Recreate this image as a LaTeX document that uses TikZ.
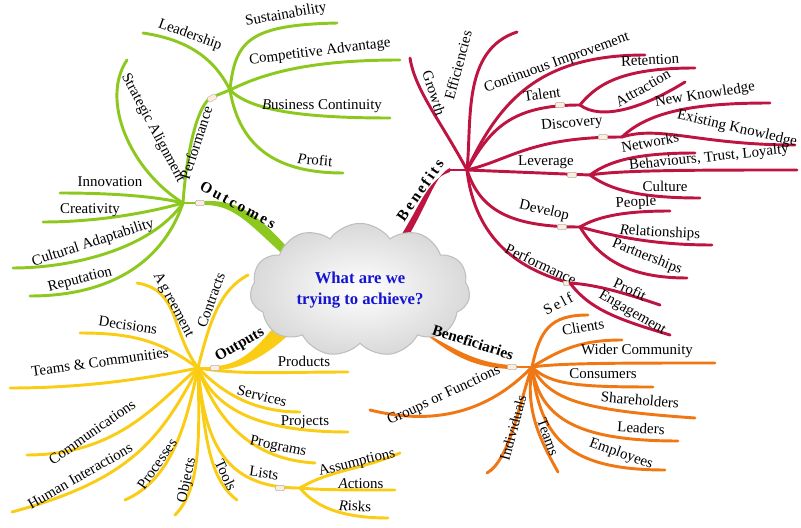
\documentclass[tikz,border=0pt]{standalone}
\usepackage{fontspec}
\setmainfont{Liberation Serif}
\usetikzlibrary{shapes.symbols}
\definecolor{grn}{RGB}{140,200,30}
\definecolor{crm}{RGB}{190,20,65}
\definecolor{ylw}{RGB}{250,205,20}
\definecolor{org}{RGB}{240,120,20}
\definecolor{qblue}{RGB}{20,20,210}
\tikzset{
 lf/.style={font=\fontsize{11.2}{13}\selectfont, inner sep=0pt},
 mf/.style={font=\bfseries\fontsize{11.5}{13}\selectfont, inner sep=0pt},
 bg/.style={draw=grn, line width=2.2pt, line cap=round},
 bc/.style={draw=crm, line width=2.2pt, line cap=round},
 by/.style={draw=ylw, line width=2.2pt, line cap=round},
 bo/.style={draw=org, line width=2.2pt, line cap=round},
 hubmark/.style={fill=white!85!orange, draw=gray!60, rounded corners=1pt, minimum width=7pt, minimum height=4pt, inner sep=0pt, line width=0.3pt}
}
\begin{document}
\begin{tikzpicture}[x=0.75pt,y=0.75pt]
\useasboundingbox (0,0) rectangle (801,-528);
% ---------- coordinates
\coordinate (cO) at (295,-268); \coordinate (cB) at (398,-245);
\coordinate (cU) at (300,-312); \coordinate (cE) at (405,-318);
\coordinate (hG) at (183,-203); \coordinate (hC) at (467,-170);
\coordinate (hY) at (198,-368); \coordinate (hR) at (532,-367);
% ---------- main branches
\fill[grn] (cO) ++(-6,8) .. controls (250,-225) and (235,-205) .. (205,-205) -- (205,-201) .. controls (240,-200) and (260,-215) .. (300,-262) -- cycle;
\draw[bg] (205,-203) -- (hG);
\fill[crm] (390,-252) .. controls (420,-210) and (425,-180) .. (450,-172) -- (450,-168) .. controls (435,-175) and (430,-200) .. (405,-242) -- cycle;
\draw[bc] (450,-170) -- (hC);
\fill[ylw] (292,-305) .. controls (270,-330) and (250,-365) .. (215,-366) -- (215,-370) .. controls (250,-370) and (280,-345) .. (306,-318) -- cycle;
\draw[by] (215,-368) -- (hY);
\fill[org] (398,-312) .. controls (440,-345) and (460,-367) .. (510,-369) -- (510,-365) .. controls (470,-362) and (450,-345) .. (412,-326) -- cycle;
\draw[bo] (510,-367) -- (hR);
% ---------- cloud
\node[cloud, cloud puffs=11, cloud puff arc=110, aspect=1.7, minimum width=165, minimum height=100,
 draw=gray!50, line width=0.8pt, inner color=white, outer color=gray!30] (cloud) at (360,-290) {};
\node[font=\bfseries\fontsize{12.5}{16}\selectfont, text=qblue, align=center] (q) at (cloud.center) {What are we\\trying to achieve?};
% main labels
\node[mf, rotate=-28] (lO) at (238,-205) {O\,u\,t\,c\,o\,m\,e\,s};
\node[mf, rotate=55] (lB) at (420,-190) {B\,e\,n\,e\,f\,i\,t\,s};
\node[mf, rotate=30] (lU) at (240,-345) {Outputs};
\node[mf, rotate=-18] (lE) at (473,-342) {Beneficiaries};
% ================= GREEN
\coordinate (hP) at (230,-90);
\draw[bg] (hG) .. controls (186,-160) and (195,-110) .. (210,-98) -- (hP);
\node[hubmark, rotate=30] at (212,-98) {};
\node[lf, rotate=72] at (196,-143) {Performance};
\draw[bg] (hG) .. controls (130,-170) and (100,-100) .. (127,-60);
\node[lf, rotate=-62] at (153,-128) {Strategic Alignment};
\draw[bg] (hG) .. controls (150,-195) and (100,-193) .. (60,-193);
\node[lf] at (110,-182) {Innovation};
\draw[bg] (hG) .. controls (140,-215) and (90,-222) .. (43,-222);
\node[lf] at (90,-210) {Creativity};
\draw[bg] (hG) .. controls (150,-250) and (70,-268) .. (13,-268);
\node[lf, rotate=18] at (93,-243) {Cultural Adaptability};
\draw[bg] (hG) .. controls (160,-270) and (100,-296) .. (30,-296);
\node[lf, rotate=14] at (80,-280) {Reputation};
\node[hubmark] at (200,-203) {};
\draw[bg] (hP) .. controls (215,-60) and (190,-40) .. (143,-33);
\node[lf, rotate=-20] at (190,-35) {Leadership};
\draw[bg] (hP) .. controls (235,-40) and (250,-25) .. (337,-23);
\node[lf, rotate=10] at (286,-15) {Sustainability};
\draw[bg] (hP) .. controls (270,-70) and (320,-60) .. (400,-60);
\node[lf, rotate=7] at (320,-52) {Competitive Advantage};
\draw[bg] (hP) .. controls (250,-110) and (300,-118) .. (390,-118);
\node[lf] at (322,-106) {\textit{B}usiness Continuity};
\draw[bg] (hP) .. controls (240,-150) and (280,-173) .. (343,-173);
\node[lf, rotate=-5] at (315,-160) {\textit{P}rofit};
% ================= CRIMSON
\draw[bc] (hC) .. controls (440,-120) and (415,-90) .. (410,-58);
\node[lf, rotate=-72] at (434,-93) {Growth};
\draw[bc] (hC) .. controls (472,-120) and (462,-50) .. (517,-32);
\node[lf, rotate=75] at (458,-65) {Efficiencies};
\draw[bc] (hC) .. controls (500,-100) and (540,-55) .. (645,-55);
\node[lf, rotate=20] at (557,-63) {Continuous Improvement};
\coordinate (hT) at (580,-105);
\draw[bc] (hC) .. controls (490,-130) and (510,-105) .. (hT);
\node[hubmark] at (560,-105) {};
\node[lf, rotate=8] at (542,-94) {Talent};
\draw[bc] (hT) .. controls (600,-80) and (630,-68) .. (695,-68);
\node[lf, rotate=3] at (650,-60) {Retention};
\draw[bc] (hT) .. controls (600,-120) and (640,-110) .. (685,-82);
\node[lf, rotate=30] at (643,-88) {Attraction};
\coordinate (hD) at (622,-137);
\draw[bc] (hC) .. controls (510,-160) and (530,-137) .. (hD);
\node[hubmark] at (603,-137) {};
\node[lf, rotate=5] at (572,-124) {Discovery};
\draw[bc] (hD) .. controls (650,-110) and (700,-103) .. (770,-103);
\node[lf, rotate=9] at (705,-95) {New Knowledge};
\draw[bc] (hD) .. controls (660,-125) and (700,-145) .. (795,-145);
\node[lf, rotate=-13] at (737,-129) {Existing Knowledge};
\coordinate (hL) at (590,-175);
\draw[bc] (hC) -- (hL);
\node[hubmark] at (572,-175) {};
\node[lf] at (546,-162) {Leverage};
\draw[bc] (hL) .. controls (610,-160) and (640,-153) .. (695,-153);
\node[lf, rotate=10] at (650,-142) {Networks};
\draw[bc] (hL) .. controls (620,-170) and (700,-170) .. (797,-170);
\node[lf, rotate=6] at (709,-158) {Behaviours, Trust, Loyalty};
\draw[bc] (hL) .. controls (610,-190) and (640,-198) .. (700,-198);
\node[lf] at (665,-186) {Culture};
\coordinate (hV) at (580,-227);
\draw[bc] (hC) .. controls (480,-210) and (510,-227) .. (hV);
\node[hubmark] at (562,-227) {};
\node[lf, rotate=-13] at (544,-211) {Develop};
\draw[bc] (hV) .. controls (600,-215) and (630,-211) .. (670,-211);
\node[lf, rotate=3] at (636,-203) {People};
\draw[bc] (hV) .. controls (610,-235) and (650,-245) .. (712,-245);
\node[lf, rotate=-3] at (660,-233) {\textit{R}elationships};
\draw[bc] (hV) .. controls (600,-260) and (630,-278) .. (687,-278);
\node[lf, rotate=-22] at (647,-257) {Partnerships};
\coordinate (hF) at (570,-283);
\draw[bc] (hC) .. controls (475,-240) and (520,-270) .. (hF);
\node[hubmark] at (568,-283) {};
\node[lf, rotate=-25] at (541,-264) {Performance};
\draw[bc] (hF) .. controls (600,-285) and (630,-295) .. (660,-305);
\node[lf, rotate=-25] at (630,-289) {Profit};
\draw[bc] (hF) .. controls (590,-310) and (620,-320) .. (670,-335);
\node[lf, rotate=-30] at (632,-313) {Engagement};
% ================= YELLOW
\draw[by] (hY) .. controls (170,-330) and (180,-290) .. (137,-283);
\node[lf, rotate=-62] at (173,-305) {A\,g\,reement};
\draw[by] (hY) .. controls (210,-320) and (220,-290) .. (248,-275);
\node[lf, rotate=70] at (211,-300) {Contracts};
\draw[by] (hY) .. controls (160,-340) and (130,-333) .. (80,-333);
\node[lf, rotate=-8] at (128,-325) {Decisions};
\draw[by] (hY) .. controls (140,-380) and (80,-388) .. (10,-388);
\node[lf, rotate=8] at (100,-362) {Teams \& Communities};
\draw[by] (hY) .. controls (160,-400) and (120,-455) .. (27,-455);
\node[lf, rotate=35] at (92,-432) {Communications};
\draw[by] (hY) .. controls (160,-440) and (130,-480) .. (12,-512);
\node[lf, rotate=30] at (80,-476) {Human Interactions};
\draw[by] (hY) .. controls (185,-430) and (170,-480) .. (125,-500);
\node[lf, rotate=55] at (157,-464) {Processes};
\draw[by] (hY) .. controls (200,-440) and (200,-490) .. (175,-515);
\node[lf, rotate=78] at (187,-480) {Objects};
\draw[by] (hY) .. controls (205,-440) and (210,-480) .. (237,-500);
\node[lf, rotate=-65] at (226,-475) {Tools};
\coordinate (hI) at (300,-488);
\draw[by] (hY) .. controls (205,-450) and (230,-488) .. (hI);
\node[hubmark] at (280,-488) {};
\node[lf, rotate=-8] at (264,-473) {Lists};
\draw[by] (hI) .. controls (330,-470) and (360,-470) .. (400,-453);
\node[lf, rotate=14] at (357,-463) {Assumptions};
\draw[by] (hI) .. controls (320,-490) and (350,-490) .. (395,-490);
\node[lf] at (361,-484) {\textit{A}ctions};
\draw[by] (hI) .. controls (310,-500) and (330,-518) .. (388,-518);
\node[lf, rotate=-3] at (355,-506) {\textit{R}isks};
\draw[by] (hY) .. controls (220,-430) and (260,-460) .. (315,-463);
\node[lf, rotate=-12] at (278,-447) {Programs};
\draw[by] (hY) .. controls (215,-410) and (260,-432) .. (348,-432);
\node[lf] at (305,-422) {Projects};
\draw[by] (hY) .. controls (220,-390) and (250,-412) .. (300,-412);
\node[lf, rotate=-14] at (262,-396) {Services};
\draw[by] (hY) .. controls (240,-375) and (280,-372) .. (348,-372);
\node[lf] at (304,-361) {Products};
\node[hubmark] at (215,-368) {};
% ================= ORANGE
\draw[bo] (hR) .. controls (540,-330) and (550,-315) .. (588,-315);
\node[lf, rotate=28] at (558,-304) {S\,e\,l\,f};
\draw[bo] (hR) .. controls (560,-350) and (580,-340) .. (622,-340);
\node[lf, rotate=10] at (583,-327) {Clients};
\draw[bo] (hR) .. controls (560,-363) and (620,-363) .. (715,-363);
\node[lf] at (637,-351) {Wider Community};
\draw[bo] (hR) .. controls (550,-385) and (580,-387) .. (653,-387);
\node[lf] at (603,-374) {Consumers};
\draw[bo] (hR) .. controls (550,-400) and (580,-410) .. (695,-418);
\node[lf, rotate=-5] at (640,-400) {Shareholders};
\draw[bo] (hR) .. controls (540,-420) and (580,-441) .. (678,-441);
\node[lf, rotate=-3] at (641,-428) {Leaders};
\draw[bo] (hR) .. controls (540,-440) and (570,-470) .. (665,-470);
\node[lf, rotate=-20] at (621,-454) {Employees};
\draw[bo] (hR) .. controls (500,-400) and (450,-430) .. (370,-410);
\node[lf, rotate=25] at (444,-396) {Groups or Functions};
\draw[bo] (hR) .. controls (520,-400) and (510,-460) .. (487,-473);
\node[lf, rotate=75] at (513,-428) {Individuals};
\draw[bo] (hR) .. controls (525,-410) and (540,-440) .. (558,-472);
\node[lf, rotate=-70] at (548,-437) {Teams};
\node[hubmark] at (512,-367) {};
\end{tikzpicture}
\end{document}
